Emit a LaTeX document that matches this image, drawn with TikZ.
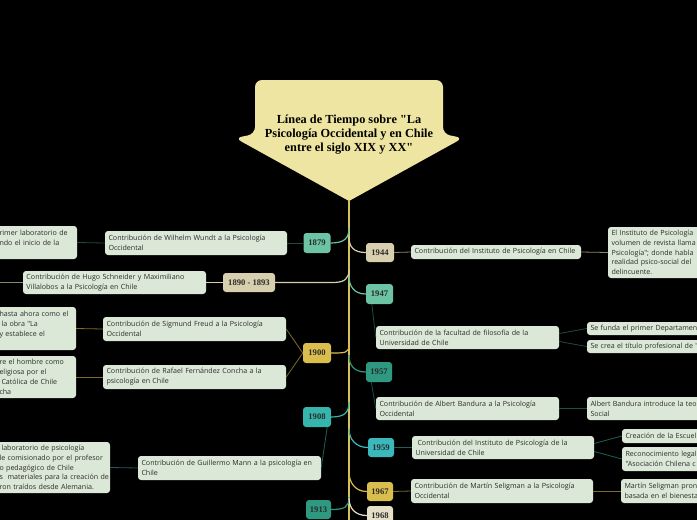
\documentclass[tikz,border=0pt]{standalone}
\usepackage{fontspec}
\newfontfamily\boxfont{Open Sans}
\newfontfamily\yearfont{Liberation Serif}
\newfontfamily\titlefont{Liberation Serif}
\definecolor{titlec}{HTML}{EFE5A2}
\definecolor{spinec}{HTML}{D6C25A}
\definecolor{boxc}{HTML}{DCE8D7}
\definecolor{txt}{HTML}{2A2A2A}
\definecolor{cgreen}{HTML}{6CC4A4}
\definecolor{cgreenD}{HTML}{1E4D40}
\definecolor{cbeige}{HTML}{D8CFAE}
\definecolor{cbeigeD}{HTML}{8C8568}
\definecolor{cgold}{HTML}{D9BE4E}
\definecolor{cgoldD}{HTML}{7D6D28}
\definecolor{cturq}{HTML}{36B5AC}
\definecolor{cturqD}{HTML}{1D5F5D}
\definecolor{cteal}{HTML}{2E9980}
\definecolor{ctealD}{HTML}{1D4D45}
\definecolor{ccyan}{HTML}{3BB8BC}
\definecolor{clight}{HTML}{E6DFC8}
\newcommand\bx[6]{%
  \pgfmathsetmacro\myBW{#4-#2}\pgfmathsetmacro\myBH{#5-#3}\pgfmathsetmacro\myTW{#4-#2-7}%
  \node[box, minimum width=\myBW pt, minimum height=\myBH pt, text width=\myTW pt] (#1) at ({(#2+#4)/2},{(#3+#5)/2}) {#6};}
\begin{document}
\begin{tikzpicture}[x=1pt,y=-1pt,
  box/.style={fill=boxc, rounded corners=3pt, font=\boxfont\fontsize{7.1}{9.8}\selectfont, text=txt, align=left, inner xsep=3.5pt, inner ysep=1pt},
  yr/.style={rounded corners=3pt, font=\yearfont\bfseries\fontsize{8.6}{9}\selectfont, text=txt, inner sep=0pt},
  sp/.style={line width=1.2pt},
  ln/.style={line width=0.8pt}]
\path[use as bounding box, fill=black] (0,0) rectangle (697,520);
\clip (0,0) rectangle (697,520);
% title
\fill[titlec, rounded corners=7pt] (255,134) -- (255,80) -- (443,80) -- (443,134) -- (463,138) [sharp corners]-- (349,201) [rounded corners=7pt]-- (235,138) -- cycle;
\node[font=\titlefont\bfseries\fontsize{12.3}{14}\selectfont, align=center, text=black] (title) at (349,135) {L\'inea de Tiempo sobre "La\\Psicolog\'ia Occidental y en Chile\\entre el siglo XIX y XX"};
\coordinate (tip) at (349,200);
\coordinate (bottom) at (349,525);
\draw[spinec, line width=2.6pt] (tip) -- (bottom);
% spine points
\coordinate (s1879) at (349,228);
\coordinate (s1890) at (349,270);
\coordinate (s1900) at (349,345);
\coordinate (s1908) at (349,402);
\coordinate (s1913) at (349,497);
\coordinate (s1944) at (349,237);
\coordinate (s1947) at (349,276);
\coordinate (s1957) at (349,355);
\coordinate (s1959) at (349,429);
\coordinate (s1967) at (349,472);
\coordinate (s1968) at (349,498);
% years
\node[yr, fill=cgreen, minimum width=27pt, minimum height=20pt] (y1879) at (317,243) {1879};
\node[yr, fill=cbeige, minimum width=52pt, minimum height=19pt] (y1890) at (249,282.5) {1890 - 1893};
\node[yr, fill=cgold, minimum width=28pt, minimum height=20pt] (y1900) at (317,353) {1900};
\node[yr, fill=cturq, minimum width=28pt, minimum height=20pt] (y1908) at (317,417) {1908};
\node[yr, fill=cteal, minimum width=25pt, minimum height=19pt] (y1913) at (318.5,509.5) {1913};
\node[yr, fill=cbeige, minimum width=28pt, minimum height=19pt] (y1944) at (380,252.5) {1944};
\node[yr, fill=cgreen, minimum width=27pt, minimum height=20pt] (y1947) at (379.5,294) {1947};
\node[yr, fill=cteal, minimum width=26pt, minimum height=20pt] (y1957) at (379,372) {1957};
\node[yr, fill=ccyan, minimum width=26pt, minimum height=19pt] (y1959) at (381,447.5) {1959};
\node[yr, fill=cgold, minimum width=26pt, minimum height=19pt] (y1967) at (380,491.5) {1967};
\node[yr, fill=clight, minimum width=26pt, minimum height=19pt] (y1968) at (380,515.5) {1968};
% boxes left
\bx{bWundt}{105}{231}{287}{255}{Contribución de Wilhelm Wundt a la Psicología\\Occidental}
\bx{dWundt}{-4}{226}{77}{259}{\mbox{rimer laboratorio de}\\\mbox{ndo el inicio de la}\\\mbox{}}
\bx{bHugo}{23}{271}{206}{294}{Contribución de Hugo Schneider y Maximiliano\\Villalobos a la Psicología en Chile}
\coordinate (hugoL) at (-5,282.5);
\bx{bFreud}{103}{317}{286}{341}{Contribución de Sigmund Freud a la Psicología\\Occidental}
\bx{dFreud}{-4}{307}{76}{350}{\mbox{hasta ahora como el}\\\mbox{\hspace{2pt}la obra "La}\\\mbox{y establece el}\\\mbox{}}
\bx{bConcha}{103}{365}{286}{389}{Contribución de Rafael Fernández Concha a la\\psicología en Chile}
\bx{dConcha}{-4}{356}{76}{398}{\mbox{re el hombre como}\\\mbox{eligiosa por el}\\\mbox{\hspace{2pt}Católica de Chile}\\\mbox{cha}}
\bx{bMann}{138}{456}{321}{480}{Contribución de Guillermo Mann a la psicología en\\Chile}
\bx{dMann}{-4}{442}{110}{493}{\mbox{\hspace{2pt}laboratorio de psicología}\\\mbox{le comisionado por el profesor}\\\mbox{o pedagógico de Chile}\\\mbox{s\ \ materiales para la creación de}\\\mbox{ron traídos desde Alemania.}}
% boxes right
\bx{bInst}{411}{245}{581}{259}{Contribución del Instituto de Psicología en Chile}
\bx{dInst}{608}{227}{760}{278}{El Instituto de Psicología\\volumen de revista llama\\Psicología"; donde habla\\realidad psico-social del\\delincuente.}
\bx{bFac}{376}{326}{559}{349}{Contribución de la facultad de filosofía de la\\Universidad de Chile}
\bx{dFacA}{587}{322}{760}{335}{Se funda el primer Departamen}
\bx{dFacB}{587}{340}{760}{353}{Se crea el título profesional de "}
\bx{bBand}{376}{397}{559}{420}{Contribución de Albert Bandura a la Psicología\\Occidental}
\bx{dBand}{587}{397}{760}{420}{Albert Bandura introduce la teo\\Social}
\bx{bIUC}{412}{436}{594}{459}{\hspace{2pt}Contribución del Instituto de Psicología de la\\Universidad de Chile}
\bx{dIUCA}{622}{429}{760}{443}{Creación de la Escuel}
\bx{dIUCB}{622}{447}{760}{471}{Reconocimiento legal\\"Asociación Chilena c}
\bx{bSelig}{411}{479}{593}{503}{Contribución de Martín Seligman a la Psicología\\Occidental}
\bx{dSelig}{621}{479}{760}{503}{Martín Seligman pron\\basada en el bienesta}
% spine connectors left
\draw[sp, cgreen] (y1879.east) .. controls +(14,0) and +(0,10) .. (s1879);
\draw[sp, cbeige] (y1890.east) -- ++(58,0) .. controls +(12,0) and +(0,8) .. (s1890);
\draw[sp, cgold] (y1900.east) .. controls +(14,0) and +(0,8) .. (s1900);
\draw[sp, cturq] (y1908.east) .. controls +(14,0) and +(0,10) .. (s1908);
\draw[sp, cteal] (y1913.east) .. controls +(14,0) and +(0,10) .. (s1913);
% spine connectors right
\draw[sp, cbeige] (s1944) .. controls +(0,10) and +(-12,0) .. (y1944.west);
\draw[sp, cgreen] (s1947) .. controls +(0,10) and +(-12,0) .. (y1947.west);
\draw[sp, cteal] (s1957) .. controls +(0,10) and +(-12,0) .. (y1957.west);
\draw[sp, ccyan] (s1959) .. controls +(0,10) and +(-12,0) .. (y1959.west);
\draw[sp, cgold] (s1967) .. controls +(0,10) and +(-12,0) .. (y1967.west);
\draw[sp, clight] (s1968) .. controls +(0,10) and +(-12,0) .. (y1968.west);
% year to boxes
\draw[ln, cgreenD] (y1879.west) -- (bWundt.east);
\draw[ln, cgreenD] (bWundt.west) -- (dWundt.east);
\draw[ln, cbeige] (y1890.west) -- (bHugo.east);
\draw[ln, cbeigeD] (bHugo.west) -- (hugoL);
\draw[ln, cgoldD] (y1900.west) -- (bFreud.east);
\draw[ln, cgoldD] (y1900.west) -- (bConcha.east);
\draw[ln, cgoldD] (bFreud.west) -- (dFreud.east);
\draw[ln, cgoldD] (bConcha.west) -- (dConcha.east);
\draw[ln, cturqD] (y1908.-45) -- (bMann.east);
\draw[ln, cturqD] (bMann.west) -- (dMann.east);
\draw[ln, cbeigeD] (y1944.east) -- (bInst.west);
\draw[ln, cbeigeD] (bInst.east) -- (dInst.west);
\draw[ln, cgreenD] (y1947.-127) -- (bFac.west);
\draw[ln, cgreenD] ([yshift=4pt]bFac.east) -- (dFacA.west);
\draw[ln, cgreenD] ([yshift=-4pt]bFac.east) -- (dFacB.west);
\draw[ln, ctealD] (y1957.-127) -- (bBand.west);
\draw[ln, ctealD] (bBand.east) -- (dBand.west);
\draw[ln, cturqD] (y1959.east) -- (bIUC.west);
\draw[ln, cturqD] ([yshift=4pt]bIUC.east) -- (dIUCA.west);
\draw[ln, cturqD] ([yshift=-4pt]bIUC.east) -- (dIUCB.west);
\draw[ln, cgoldD] (y1967.east) -- (bSelig.west);
\draw[ln, cgoldD] (bSelig.east) -- (dSelig.west);
\end{tikzpicture}
\end{document}
